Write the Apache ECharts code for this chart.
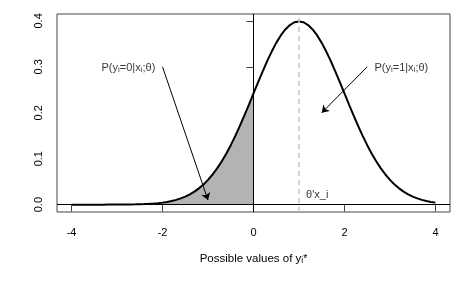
<!DOCTYPE html>
<html>
<head>
<meta charset="utf-8">
<script src="https://cdn.jsdelivr.net/npm/echarts@6/dist/echarts.min.js"></script>
<style>html,body{margin:0;padding:0;background:#fff}#c{width:474px;height:284px}</style>
</head>
<body>
<div id="c"></div>
<script>
// x grid of the density curve (possible values of y*)
const xs = [-4,-3.9,-3.8,-3.7,-3.6,-3.5,-3.4,-3.3,-3.2,-3.1,
            -3,-2.9,-2.8,-2.7,-2.6,-2.5,-2.4,-2.3,-2.2,-2.1,
            -2,-1.9,-1.8,-1.7,-1.6,-1.5,-1.4,-1.3,-1.2,-1.1,
            -1,-0.9,-0.8,-0.7,-0.6,-0.5,-0.4,-0.3,-0.2,-0.1,
            0,0.1,0.2,0.3,0.4,0.5,0.6,0.7,0.8,0.9,
            1,1.1,1.2,1.3,1.4,1.5,1.6,1.7,1.8,1.9,
            2,2.1,2.2,2.3,2.4,2.5,2.6,2.7,2.8,2.9,
            3,3.1,3.2,3.3,3.4,3.5,3.6,3.7,3.8,3.9,4];
// density values
const density = [0.0000,0.0000,0.0000,0.0000,0.0000,0.0000,0.0000,0.0000,0.0001,0.0001,
                 0.0001,0.0002,0.0003,0.0004,0.0006,0.0009,0.0012,0.0017,0.0024,0.0033,
                 0.0044,0.0060,0.0079,0.0104,0.0136,0.0175,0.0224,0.0283,0.0355,0.0440,
                 0.0540,0.0656,0.0790,0.0940,0.1109,0.1295,0.1497,0.1714,0.1942,0.2179,
                 0.2420,0.2661,0.2897,0.3123,0.3332,0.3521,0.3683,0.3814,0.3910,0.3970,
                 0.3989,0.3970,0.3910,0.3814,0.3683,0.3521,0.3332,0.3123,0.2897,0.2661,
                 0.2420,0.2179,0.1942,0.1714,0.1497,0.1295,0.1109,0.0940,0.0790,0.0656,
                 0.0540,0.0440,0.0355,0.0283,0.0224,0.0175,0.0136,0.0104,0.0079,0.0060,0.0044];
const shadeUpTo = 0;           // shaded region: x <= 0
const meanLine = 1;            // dashed line at theta'x_i
const xTicks = [-4,-2,0,2,4];
const yTicks = [0,0.1,0.2,0.3,0.4];
const annotations = [
  {pos:[-2.75,0.30], text:'{n|P(y}{s|i}{n|=0|x}{s|i}{n|;θ)}'},
  {pos:[3.25,0.30],  text:'{n|P(y}{s|i}{n|=1|x}{s|i}{n|;θ)}'},
  {pos:[1.4,0.025],  text:"{n|θ'x_i}"}
];
const arrows = [
  {from:[-2,0.3], to:[-1,0.01]},
  {from:[2.5,0.3], to:[1.5,0.2]}
];
const xTitle = '{t|Possible values of y}{ts|i}{tu|*}';

const curve = xs.map((x,i)=>[x,density[i]]);
const shade = curve.filter(p=>p[0] <= shadeUpTo);
const font = 'Liberation Sans, Arial, Helvetica, sans-serif';
const rich = {
  n:{fontSize:11, fontFamily:font, color:'#000', lineHeight:14, verticalAlign:'bottom'},
  s:{fontSize:8, fontFamily:font, color:'#000', lineHeight:8, verticalAlign:'bottom'},
  t:{fontSize:11.5, fontFamily:font, color:'#000', lineHeight:15, verticalAlign:'bottom'},
  ts:{fontSize:8.5, fontFamily:font, color:'#000', lineHeight:9, verticalAlign:'bottom'},
  tu:{fontSize:10.5, fontFamily:font, color:'#000', lineHeight:15, verticalAlign:'bottom'}
};

const chart = echarts.init(document.getElementById('c'), null, {renderer:'canvas'});
chart.setOption({
  backgroundColor:'#fff',
  animation:false,
  grid:{left:57, right:24, top:14, bottom:72, show:true, borderColor:'#444', borderWidth:1, backgroundColor:'transparent'},
  xAxis:{
    type:'value', min:-4.32, max:4.32,
    axisLine:{show:false},
    splitLine:{show:false},
    axisTick:{show:true, customValues:xTicks, length:7, lineStyle:{color:'#444'}},
    axisLabel:{customValues:xTicks, margin:15, fontSize:11, fontFamily:font, color:'#000'},
    name:xTitle, nameLocation:'middle', nameGap:38,
    nameTextStyle:{rich:rich}
  },
  yAxis:{
    type:'value', min:-0.016, max:0.415,
    axisLine:{show:false},
    splitLine:{show:false},
    axisTick:{show:true, customValues:yTicks, length:7, lineStyle:{color:'#444'}},
    axisLabel:{customValues:yTicks, margin:13, rotate:90, fontSize:11, fontFamily:font, color:'#000',
               formatter:v=>v.toFixed(1)}
  },
  series:[
    {type:'line', data:shade, symbol:'none', z:2,
     lineStyle:{width:0}, areaStyle:{color:'#b3b3b3', opacity:1, origin:0}},
    {type:'line', data:[], z:3, symbol:'none',
     markLine:{silent:true, symbol:'none', label:{show:false}, animation:false,
       data:[
         {xAxis:0, lineStyle:{color:'#000', width:1, type:'solid'}},
         {yAxis:0, lineStyle:{color:'#000', width:1, type:'solid'}},
         {xAxis:meanLine, lineStyle:{color:'#c8c8c8', width:1.5, type:[5,4]}}
       ]}},
    {type:'line', data:curve, symbol:'none', z:4,
     lineStyle:{color:'#000', width:2}},
    {type:'line', data:[], z:5, symbol:'none',
     markLine:{silent:true, symbol:['none','arrow'], symbolSize:7, label:{show:false}, animation:false,
       lineStyle:{color:'#000', width:1, type:'solid'},
       data: arrows.map(a=>[{coord:a.from},{coord:a.to}])}},
    {type:'scatter', symbolSize:0, z:6,
     data: annotations.map(a=>({value:a.pos, label:{show:true, position:'inside', formatter:a.text, rich:rich}})),
     label:{show:true, position:'inside'}}
  ]
});
</script>
</body>
</html>
